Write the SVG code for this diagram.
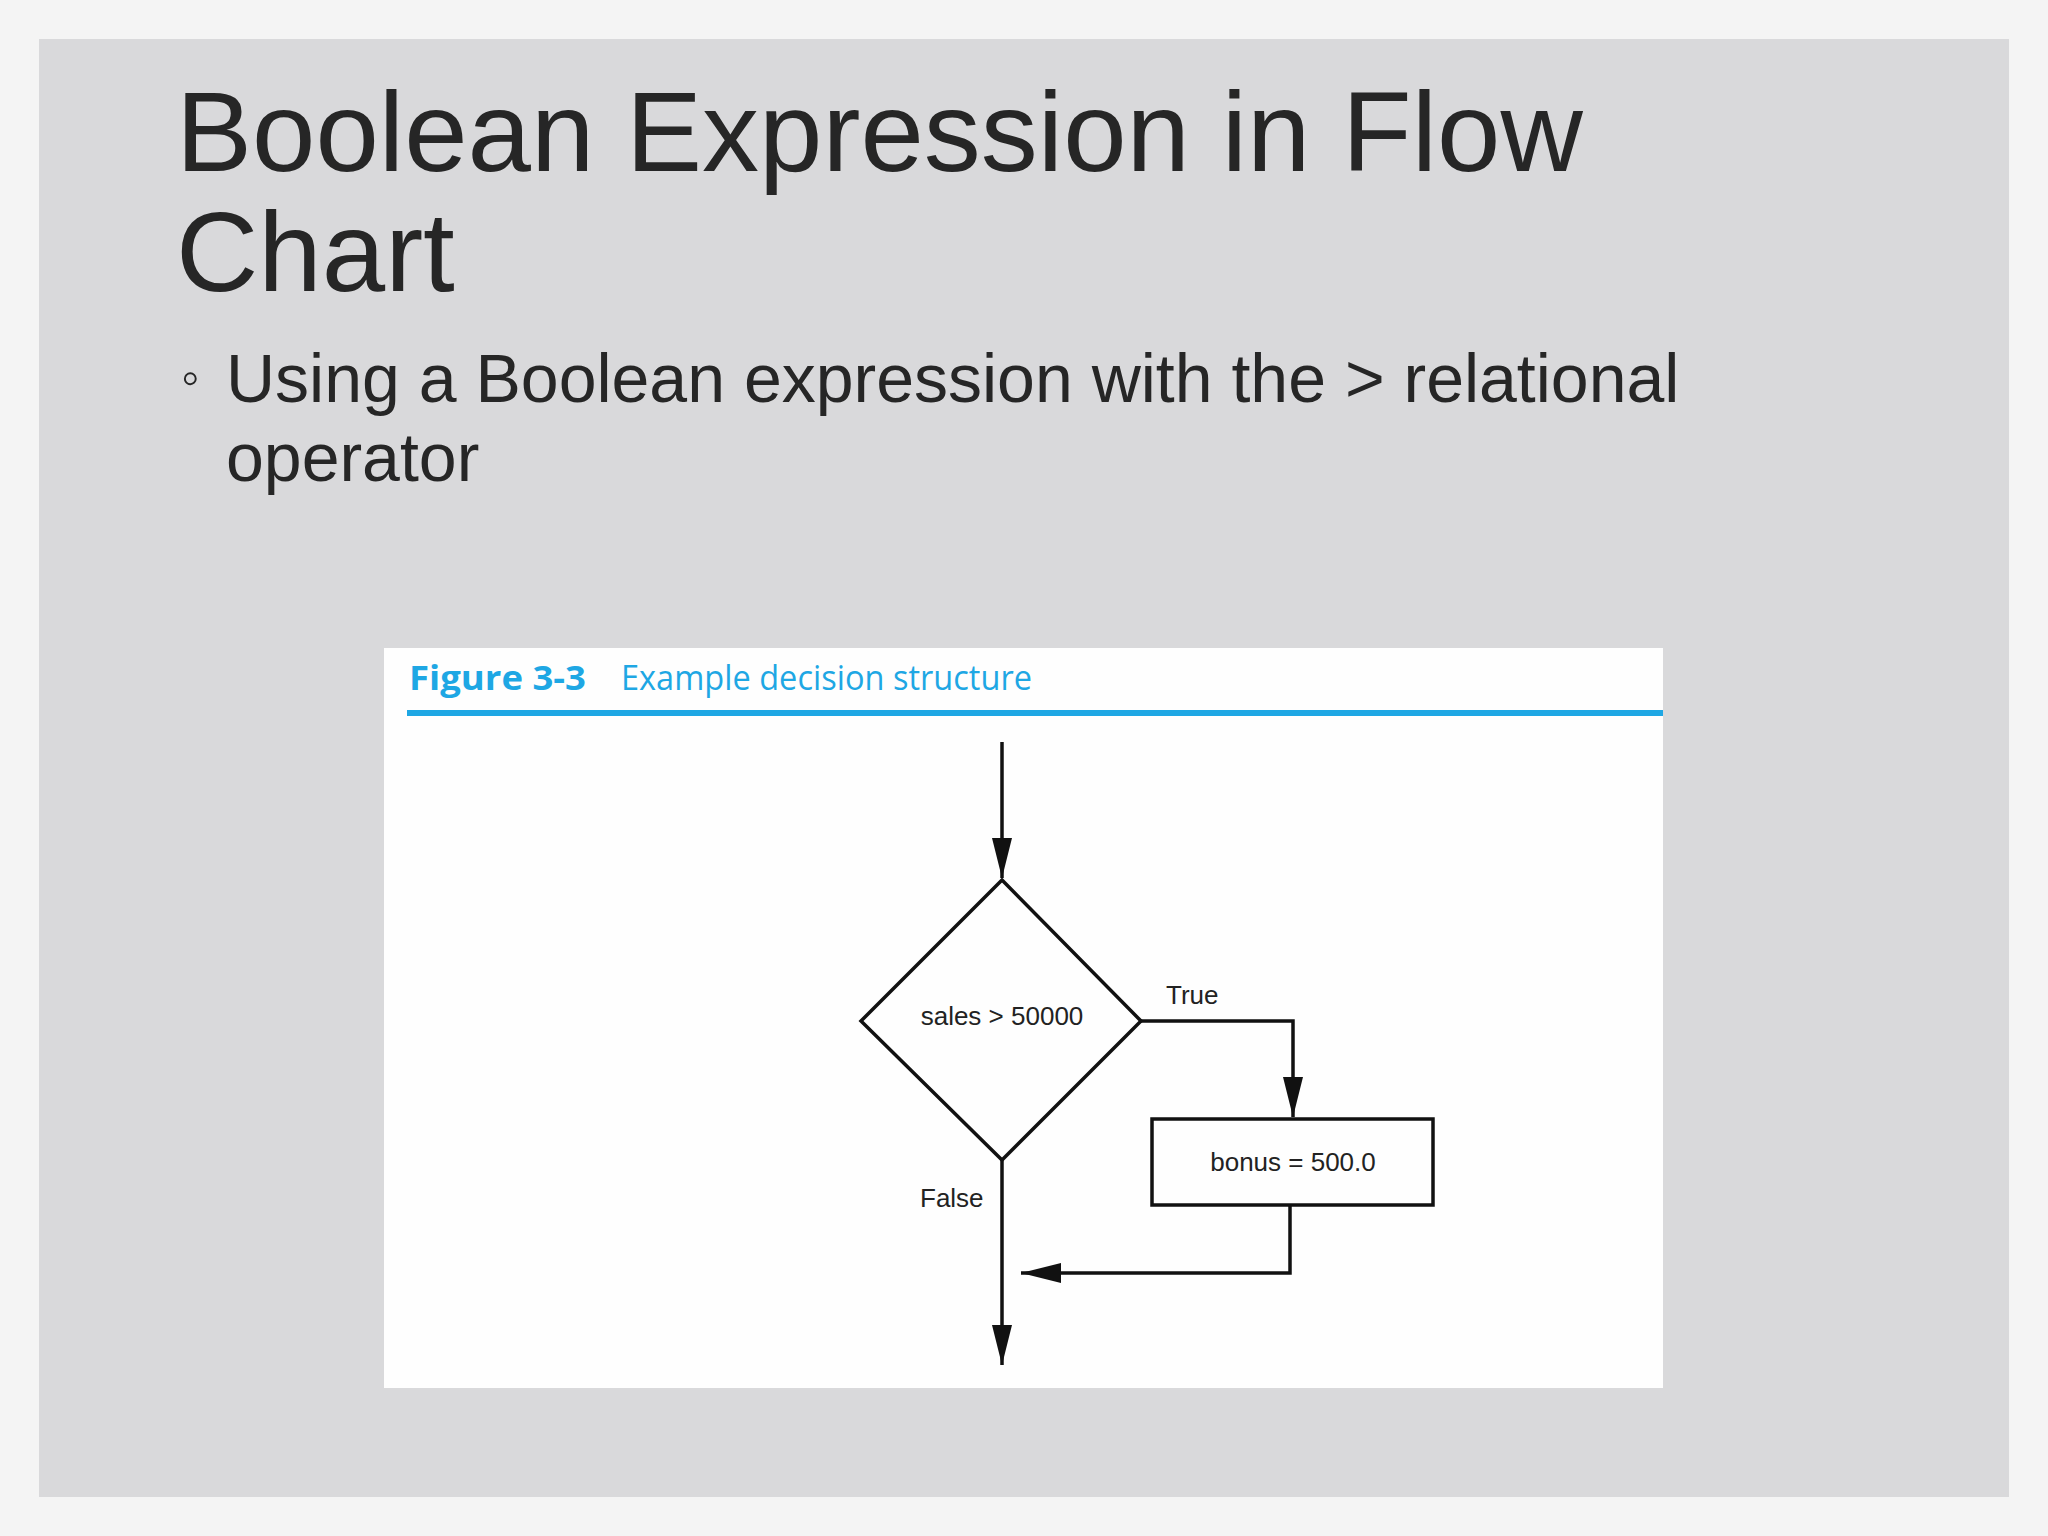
<svg xmlns="http://www.w3.org/2000/svg" width="2048" height="1536" viewBox="0 0 2048 1536">
<style>
.t{font-family:"Liberation Sans",Arial,sans-serif;fill:#262626}
.f{font-family:"Liberation Sans",Arial,sans-serif;fill:#222;font-size:26px}
.c{font-family:"Open Sans","Liberation Sans",sans-serif;fill:#1ea7e4;font-size:34px}
.ln{stroke:#111;stroke-width:3.5;fill:none}
</style>
<defs>
<marker id="ah" viewBox="0 0 40 20" refX="40" refY="10" markerWidth="40" markerHeight="20" markerUnits="userSpaceOnUse" orient="auto">
<path d="M0,0 L40,10 L0,20 Z" fill="#111"/>
</marker>
</defs>
<rect width="2048" height="1536" fill="#f4f4f4"/>
<rect x="39" y="39" width="1970" height="1458" fill="#d9d9db"/>
<text class="t" x="176" y="171" font-size="114">Boolean Expression in Flow</text>
<text class="t" x="176" y="291" font-size="114">Chart</text>
<text class="t" x="181" y="395" font-size="52">◦</text>
<text class="t" x="226" y="402" font-size="68">Using a Boolean expression with the &gt; relational</text>
<text class="t" x="226" y="481" font-size="68">operator</text>
<rect x="384" y="648" width="1279" height="740" fill="#fefefe"/>
<g id="caption">
<text class="c" x="409" y="690" font-weight="bold" textLength="177" lengthAdjust="spacingAndGlyphs">Figure 3-3</text>
<text class="c" x="621" y="690" textLength="411" lengthAdjust="spacingAndGlyphs">Example decision structure</text>
<rect x="407" y="710" width="1256" height="6" fill="#1ea7e4"/>
</g>
<g id="connectors">
<line class="ln" x1="1002" y1="742" x2="1002" y2="878" marker-end="url(#ah)"/>
<polyline class="ln" points="1141,1021 1293,1021 1293,1117" marker-end="url(#ah)"/>
<polyline class="ln" points="1290,1205 1290,1273 1021,1273" marker-end="url(#ah)"/>
<line class="ln" x1="1002" y1="1160" x2="1002" y2="1365" marker-end="url(#ah)"/>
<text class="f" x="1166" y="1004">True</text>
<text class="f" x="920" y="1207">False</text>
</g>
<g id="decision">
<polygon class="ln" points="1002,880 1141,1021 1002,1160 861,1021" stroke-width="2.5"/>
<text class="f" x="1002" y="1025" text-anchor="middle">sales &gt; 50000</text>
</g>
<g id="bonus">
<rect class="ln" x="1152" y="1119" width="281" height="86" stroke-width="4"/>
<text class="f" x="1293" y="1171" text-anchor="middle">bonus = 500.0</text>
</g>
</svg>
